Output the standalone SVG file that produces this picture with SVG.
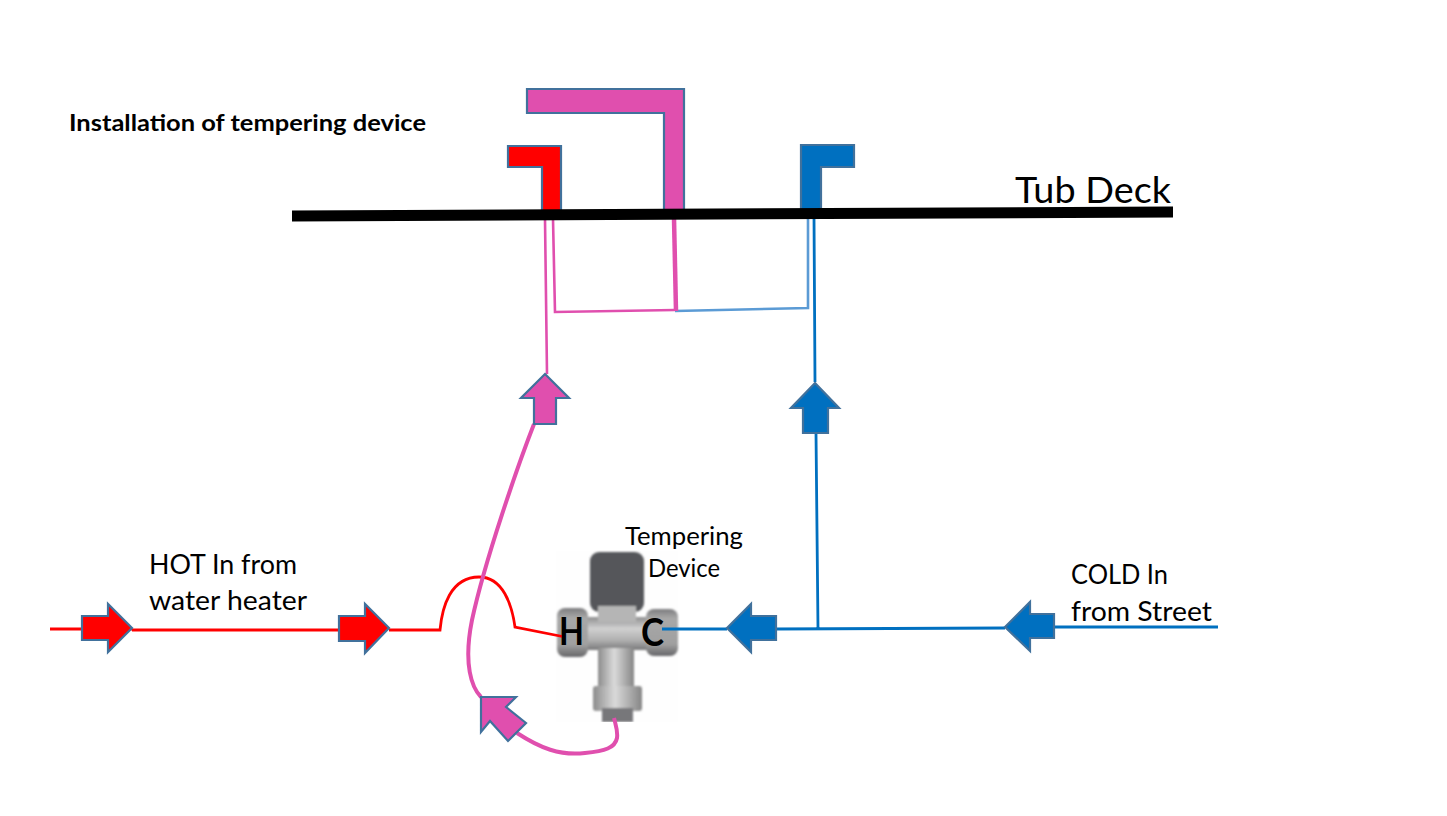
<svg xmlns="http://www.w3.org/2000/svg" width="1447" height="816" viewBox="0 0 1447 816">
<style>
text{font-family:Lato,"Open Sans","Liberation Sans",sans-serif;fill:#000}
.lbl{font-size:26px}
.small{font-size:24.5px}
.shape{stroke:#41719c;stroke-width:2.2}
.pink{fill:#e04fae}.red{fill:#f00}.blue{fill:#0070c0}
.line{fill:none;stroke-linejoin:miter}
.lp{stroke:#e04fae}.lr{stroke:#f00}.lb{stroke:#0070c0}.ll{stroke:#5b9bd5}
</style>
<defs>
<linearGradient id="hbody" x1="0" y1="0" x2="0" y2="1"><stop offset="0" stop-color="#8f8f90"/><stop offset=".35" stop-color="#d0d0d0"/><stop offset=".7" stop-color="#b0b0b0"/><stop offset="1" stop-color="#78787a"/></linearGradient>
<linearGradient id="port" x1="0" y1="0" x2="0" y2="1"><stop offset="0" stop-color="#7c7c7e"/><stop offset=".2" stop-color="#a8a8a8"/><stop offset=".75" stop-color="#a0a0a0"/><stop offset="1" stop-color="#666668"/></linearGradient>
<linearGradient id="vbody" x1="0" y1="0" x2="1" y2="0"><stop offset="0" stop-color="#8c8c8c"/><stop offset=".45" stop-color="#dadada"/><stop offset="1" stop-color="#858585"/></linearGradient>
<filter id="soft" x="-10%" y="-10%" width="120%" height="120%"><feGaussianBlur stdDeviation="1.3"/></filter>
</defs>
<rect width="1447" height="816" fill="#fff"/>
<g id="title"><text x="69" y="131" textLength="357" lengthAdjust="spacingAndGlyphs" style="font-size:23px;font-weight:700">Installation of tempering device</text></g>
<g id="valve">
<rect x="556" y="551" width="122" height="171" fill="#fefefe"/>
<g filter="url(#soft)">
<rect x="590" y="552" width="54" height="60" rx="9" fill="#55565a"/>
<rect x="570" y="617" width="96" height="33" fill="url(#hbody)"/>
<rect x="557" y="608" width="31" height="49" rx="8" fill="url(#port)"/>
<rect x="646" y="609" width="32" height="47" rx="8" fill="url(#port)"/>
<rect x="598" y="606" width="38" height="16" fill="#b5b5b5"/>
<rect x="598" y="648" width="36" height="42" fill="url(#vbody)"/>
<rect x="593" y="686" width="49" height="25" rx="3" fill="url(#vbody)"/>
<rect x="602" y="708" width="31" height="14" fill="#77777a"/>
</g>
<rect x="556" y="722" width="122" height="4" fill="#fff"/>
</g>
<g id="connectors">
<path class="line lr" stroke-width="2.8" d="M50 629H132M132 630H339M389 630H440C442 608 450 577 479 577C503 577 512 605 515 627L565 637"/>
<path class="line lb" stroke-width="2.8" d="M662 629H727M776 629L1005 628M1054 627H1218M818 629L816 433M815 382L814 216"/>
<path class="line ll" stroke-width="2.6" d="M808 218L808 308L675 311"/>
<path class="line lp" stroke-width="2.6" d="M545 219L547 374M553 219L555 312L675 310"/>
<path class="line lp" stroke-width="4.5" d="M674 218L676 311"/>
<path class="line lp" stroke-width="4" d="M534 424C518 465 485 560 472 620C463 665 472 688 481 697M517 733C540 748 560 756 585 753C605 751 615 748 617 738C618 731 616 726 614 718"/>
</g>
<g id="hot-handle"><path class="shape red" d="M508 146H561V212H542V167H508Z"/></g>
<g id="mixed-spout"><path class="shape pink" d="M527 89H684V212H664V113H527Z"/></g>
<g id="cold-handle"><path class="shape blue" d="M801 145H854V167H821V212H801Z"/></g>
<g id="deck"><path d="M292 216L1173 212" stroke="#000" stroke-width="11" fill="none"/></g>
<g id="arrow-hot-1"><path class="shape red" d="M82 616H108V604L132 628L108 652V640H82Z"/></g>
<g id="arrow-hot-2"><path class="shape red" d="M339 616H365V604L389 628L365 653V641H339Z"/></g>
<g id="arrow-mixed-up"><path class="shape pink" d="M545 374L569 398H556V424H534V398H521Z"/></g>
<g id="arrow-cold-up"><path class="shape blue" d="M815 383L839 408H828V433H803V408H791Z"/></g>
<g id="arrow-cold-1"><path class="shape blue" d="M727 628L751 604V616H776V640H751V652Z"/></g>
<g id="arrow-cold-2"><path class="shape blue" d="M1005 627L1030 602V614H1054V638H1030V651Z"/></g>
<g id="arrow-mixed-out"><path class="shape pink" d="M481 697L516 697L506 707L526 723L508 741L490 721L481 732Z"/></g>
<g id="labels">
<text x="1015" y="203" textLength="156" lengthAdjust="spacingAndGlyphs" style="font-size:36px">Tub Deck</text>
<text x="149" y="574" class="lbl" textLength="148" lengthAdjust="spacingAndGlyphs">HOT In from</text>
<text x="149" y="610" class="lbl" textLength="158" lengthAdjust="spacingAndGlyphs">water heater</text>
<text x="1071" y="584" class="lbl" textLength="97" lengthAdjust="spacingAndGlyphs">COLD In</text>
<text x="1071" y="621" class="lbl" textLength="141" lengthAdjust="spacingAndGlyphs">from Street</text>
<text x="625" y="545" class="small" textLength="118" lengthAdjust="spacingAndGlyphs">Tempering</text>
<text x="648" y="577" class="small" textLength="72" lengthAdjust="spacingAndGlyphs">Device</text>
<text x="559" y="645" textLength="25" lengthAdjust="spacingAndGlyphs" style="font-size:38px;font-weight:700">H</text>
<text x="641" y="646" textLength="23" lengthAdjust="spacingAndGlyphs" style="font-size:38px;font-weight:700">C</text>
</g>
</svg>
